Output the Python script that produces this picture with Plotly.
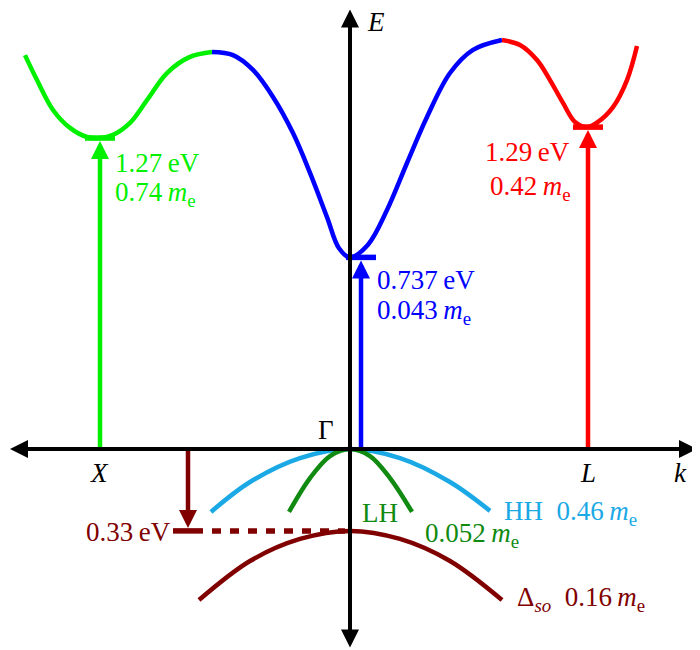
import plotly.graph_objects as go

# schematic band diagram: k with X at -1, E in eV (not to scale)
# conduction band, split in the three coloured valleys
cbX_k = [-1.300, -1.252, -1.188, -1.120, -1.052, -1.000, -0.948, -0.880, -0.812, -0.732, -0.640, -0.552]
cbX_E = [1.515, 1.419, 1.304, 1.235, 1.200, 1.196, 1.208, 1.254, 1.342, 1.446, 1.508, 1.527]
cbG_k = [-0.552, -0.468, -0.388, -0.308, -0.228, -0.160, -0.092, -0.044, 0.000, 0.072, 0.148, 0.228, 0.308, 0.400, 0.492, 0.608]
cbG_E = [1.527, 1.515, 1.458, 1.354, 1.215, 1.062, 0.892, 0.772, 0.737, 0.786, 0.919, 1.100, 1.277, 1.446, 1.535, 1.573]
cbL_k = [0.608, 0.680, 0.748, 0.800, 0.852, 0.900, 0.948, 0.992, 1.052, 1.108, 1.148]
cbL_E = [1.573, 1.554, 1.496, 1.419, 1.331, 1.258, 1.238, 1.258, 1.315, 1.419, 1.550]

# valence bands at Gamma
hh_k = [-0.556, -0.400, -0.200, 0.000, 0.200, 0.400, 0.560]
hh_E = [-0.242, -0.127, -0.035, 0.000, -0.035, -0.127, -0.238]
lh_k = [-0.244, -0.160, -0.080, 0.000, 0.080, 0.160, 0.248]
lh_E = [-0.242, -0.112, -0.027, 0.000, -0.027, -0.112, -0.242]
so_k = [-0.604, -0.400, -0.200, 0.000, 0.200, 0.400, 0.608]
so_E = [-0.581, -0.431, -0.346, -0.315, -0.346, -0.431, -0.581]

# gap arrows (arrow k, energy of the valley edge)
gap_k = [-1.000, 0.044, 0.952]
gap_E = [1.196, 0.737, 1.238]
gap_colors = ["#00f000", "#0000ff", "#ff0000"]
so_arrow_k = -0.648
so_top_E = -0.315

# axis extent
k_min, k_max = -1.362, 1.388
E_min, E_max = -0.765, 1.690

c_hh = "#1ba9e6"
c_lh = "#108a10"
c_so = "#800000"
FONT = "Liberation Serif"
TS = "\u2009"  # thin space, like \, in LaTeX

fig = go.Figure()

def band(k, E, color, width=4.5, dash=None):
    fig.add_trace(go.Scatter(x=k, y=E, mode="lines", line_shape="spline",
                             line=dict(color=color, width=width, dash=dash),
                             hoverinfo="skip"))

band(cbX_k, cbX_E, gap_colors[0])
band(cbG_k, cbG_E, gap_colors[1])
band(cbL_k, cbL_E, gap_colors[2])
band(hh_k, hh_E, c_hh)
band(lh_k, lh_E, c_lh)
band(so_k, so_E, c_so)

# dashed level of the split-off band top
fig.add_trace(go.Scatter(x=[so_arrow_k + 0.096, -0.02], y=[so_top_E, so_top_E], mode="lines",
                         line=dict(color=c_so, width=5.5, dash="9px,9px"), hoverinfo="skip"))

# small bars at the band edges
hw = 0.06
for k, E, c in zip(gap_k + [so_arrow_k], gap_E + [so_top_E], gap_colors + [c_so]):
    fig.add_trace(go.Scatter(x=[k - hw, k + hw], y=[E, E], mode="lines",
                             line=dict(color=c, width=5.5), hoverinfo="skip"))

def arrow(x0, y0, x1, y1, color, width, both=False, standoff=0):
    fig.add_annotation(x=x1, y=y1, ax=x0, ay=y0, xref="x", yref="y", axref="x", ayref="y",
                       text="", font=dict(size=1), showarrow=True,
                       arrowhead=2, arrowsize=0.9 * 4 / width, arrowwidth=width,
                       arrowcolor=color, standoff=standoff, borderpad=0,
                       arrowside="end+start" if both else "end",
                       startarrowhead=2, startarrowsize=0.9 * 4 / width)

# gap arrows
for k, E, c in zip(gap_k, gap_E, gap_colors):
    arrow(k, 0, k, E, c, 4.5, standoff=3)
arrow(so_arrow_k, 0, so_arrow_k, so_top_E, c_so, 4.5, standoff=3)

# axes
arrow(k_min, 0, k_max, 0, "black", 4, both=True)
arrow(0, E_min, 0, E_max, "black", 4, both=True)

def label(text, k, E, color, anchor="left"):
    fig.add_annotation(x=k, y=E, xref="x", yref="y", text=text, showarrow=False,
                       xanchor=anchor, yanchor="middle",
                       font=dict(family=FONT, size=27, color=color))

me = "<i>m</i><sub>e</sub>"
label("1.27" + TS + "eV", -0.948, 1.100, gap_colors[0])
label("0.74" + TS + me, -0.948, 0.981, gap_colors[0])
label("0.737" + TS + "eV", 0.100, 0.650, gap_colors[1])
label("0.043" + TS + me, 0.100, 0.527, gap_colors[1])
label("1.29" + TS + "eV", 0.888, 1.142, gap_colors[2], "right")
label("0.42" + TS + me, 0.892, 1.004, gap_colors[2], "right")
label("0.33" + TS + "eV", -0.708, -0.319, c_so, "right")
label("LH", 0.040, -0.246, c_lh)
label("0.052" + TS + me, 0.292, -0.331, c_lh)
label("HH  0.46" + TS + me, 0.608, -0.246, c_hh)
label("Δ<sub><i>so</i></sub>  0.16" + TS + me, 0.660, -0.578, c_so)
label("<i>E</i>", 0.060, 1.642, "black")
label("Γ", -0.096, 0.073, "black", "center")
label("<i>X</i>", -1.004, -0.092, "black", "center")
label("<i>L</i>", 0.952, -0.092, "black", "center")
label("<i>k</i>", 1.320, -0.092, "black", "center")

# the page body keeps an 8px margin, so the figure is 8px smaller and ranges start there
fig.update_layout(
    width=692, height=642,
    margin=dict(l=0, r=0, t=0, b=0),
    paper_bgcolor="white", plot_bgcolor="white",
    showlegend=False,
    xaxis=dict(visible=False, range=[-1.368, 1.4], fixedrange=True),
    yaxis=dict(visible=False, range=[-0.77308, 1.69615], fixedrange=True),
)

fig.write_html("out.html")
